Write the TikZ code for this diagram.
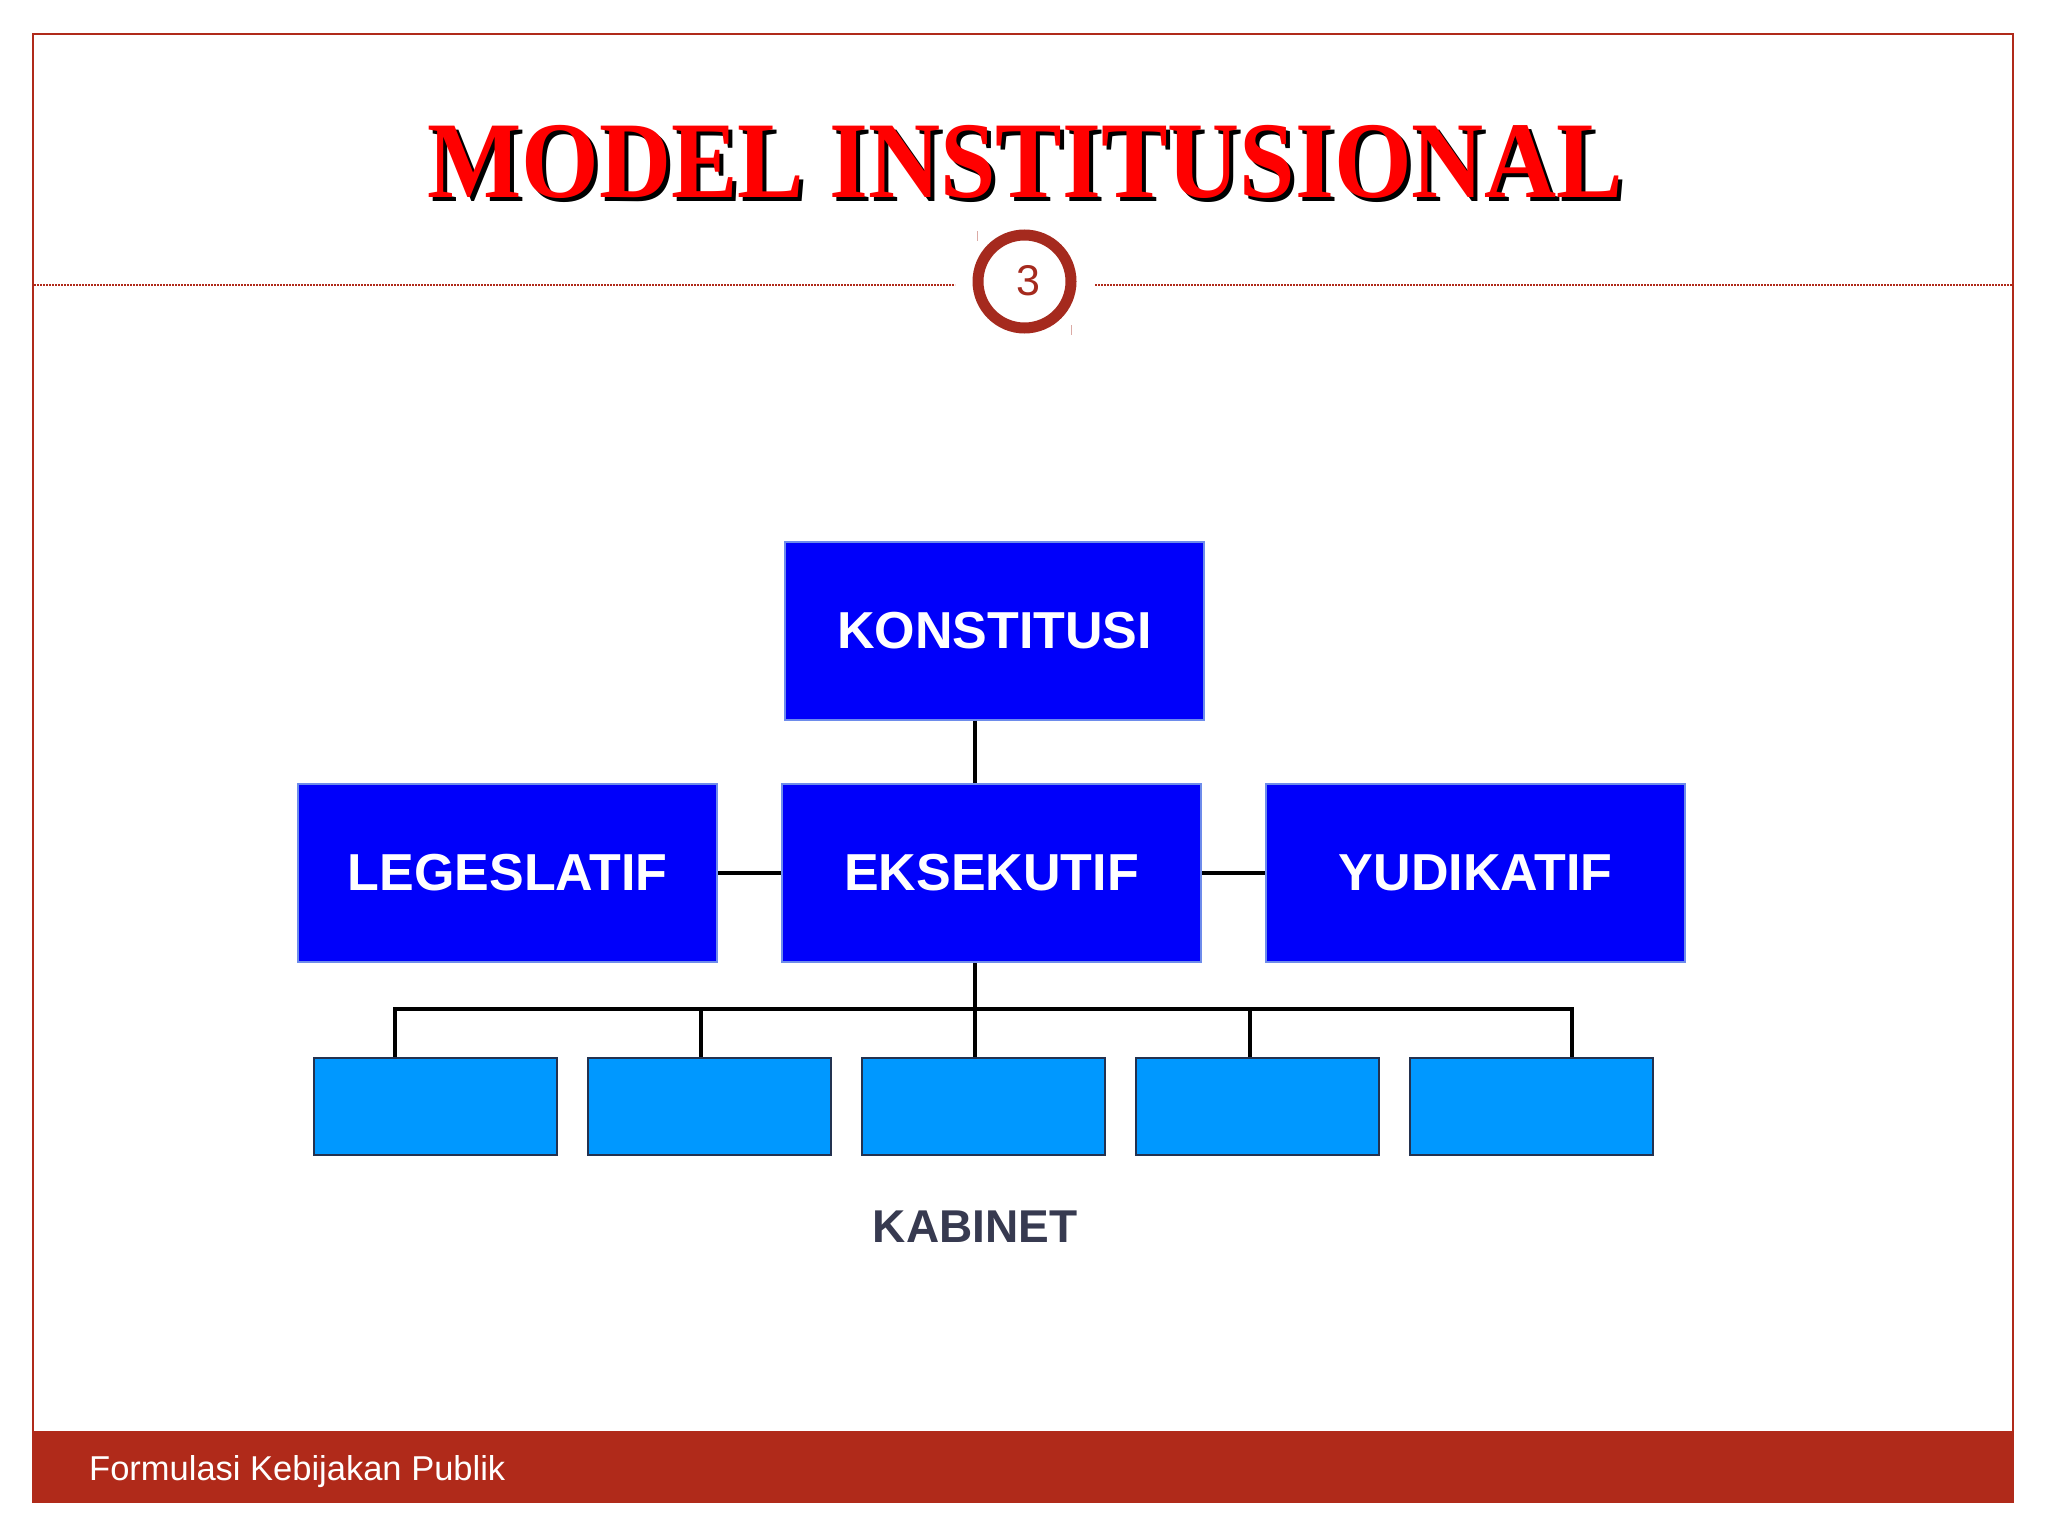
\documentclass[tikz,border=0pt]{standalone}
\usepackage{fontspec}
\setmainfont{Liberation Sans}
\newfontfamily\titlefont{Liberation Serif}
\definecolor{framered}{RGB}{176,42,26}
\definecolor{ringred}{RGB}{165,42,30}
\definecolor{bigblue}{RGB}{0,0,250}
\definecolor{bigedge}{RGB}{110,140,235}
\definecolor{smallblue}{RGB}{0,152,255}
\definecolor{smalledge}{RGB}{35,50,80}
\definecolor{kabgray}{RGB}{55,58,80}
\begin{document}
\begin{tikzpicture}[x=1bp,y=-1bp,
  bigbox/.style={draw=bigedge, line width=2bp, fill=bigblue, text=white,
    minimum width=419bp, minimum height=178bp, inner sep=0pt,
    font=\bfseries\fontsize{52bp}{52bp}\selectfont},
  smallbox/.style={draw=smalledge, line width=2bp, fill=smallblue,
    minimum width=243bp, minimum height=97bp, inner sep=0pt},
  thinlink/.style={draw=black, line width=3.2bp},
  thicklink/.style={draw=black, line width=4.5bp},
  dotline/.style={draw=framered, line width=1.5bp, dash pattern=on 1.5bp off 1.5bp}]
\useasboundingbox (0,0) rectangle (2048,1536);
\fill[white] (0,0) rectangle (2048,1536);
% frame and footer
\draw[framered, line width=2bp] (33,34) rectangle (2013,1502);
\fill[framered] (33,1431) rectangle (2013,1502);
\node[anchor=base west, text=white, inner sep=0pt,
  font=\fontsize{34.5bp}{34.5bp}\selectfont] (footer) at (89,1480) {Formulasi Kebijakan Publik};
% title with shadow
\node[anchor=base, inner sep=0pt, text=black,
  font=\titlefont\bfseries\fontsize{109bp}{109bp}\selectfont] (titleshadow) at (1029,202)
  {\scalebox{0.916}[1]{MODEL INSTITUSIONAL}};
\node[anchor=base, inner sep=0pt, text=red,
  font=\titlefont\bfseries\fontsize{109bp}{109bp}\selectfont] (title) at (1025,198)
  {\scalebox{0.916}[1]{MODEL INSTITUSIONAL}};
% page number circle and dotted rule
\node[circle, draw=ringred, line width=11bp, minimum size=93bp, inner sep=0pt] (pagenum) at (1024.5,281.5) {};
\node[text=ringred, inner sep=0pt, font=\fontsize{43bp}{43bp}\selectfont] (pagedigit) at (1028.5,281) {3};
\draw[dotline] (34,285) -- (955,285);
\draw[dotline] (1095,285) -- (2013,285);
\draw[ringred!40, line width=1bp] (977,231) -- (977,241);
\draw[ringred!40, line width=1bp] (1071,325) -- (1071,335);
% main boxes
\node[bigbox] (kons) at (994.5,630.5) {KONSTITUSI};
\node[bigbox] (leg) at (507.75,873) {LEGESLATIF};
\node[bigbox] (eks) at (991.5,873) {EKSEKUTIF};
\node[bigbox] (yud) at (1475.5,873) {YUDIKATIF};
% cabinet boxes
\node[smallbox] (k1) at (435.5,1106.5) {};
\node[smallbox] (k2) at (709,1106.5) {};
\node[smallbox] (k3) at (983,1106.5) {};
\node[smallbox] (k4) at (1257,1106.5) {};
\node[smallbox] (k5) at (1531,1106.5) {};
\node[text=kabgray, font=\bfseries\fontsize{46bp}{46bp}\selectfont, inner sep=0pt] (kabinet) at (975,1227) {KABINET};
% connectors
\coordinate (trunk) at (975,1009);
\coordinate (d1) at (395,1009);
\coordinate (d2) at (701,1009);
\coordinate (d4) at (1250,1009);
\coordinate (d5) at (1572,1009);
\draw[thinlink] (kons.south -| trunk) -- (eks.north -| trunk);
\draw[thicklink] (leg.east) -- (eks.west);
\draw[thicklink] (eks.east) -- (yud.west);
\draw[thinlink] (eks.south -| trunk) -- (trunk);
\draw[thicklink] ([xshift=-1.6bp]d1) -- ([xshift=1.6bp]d5);
\draw[thinlink] (d1) -- (k1.north -| d1);
\draw[thinlink] (d2) -- (k2.north -| d2);
\draw[thinlink] (trunk) -- (k3.north -| trunk);
\draw[thinlink] (d4) -- (k4.north -| d4);
\draw[thinlink] (d5) -- (k5.north -| d5);
\end{tikzpicture}
\end{document}
